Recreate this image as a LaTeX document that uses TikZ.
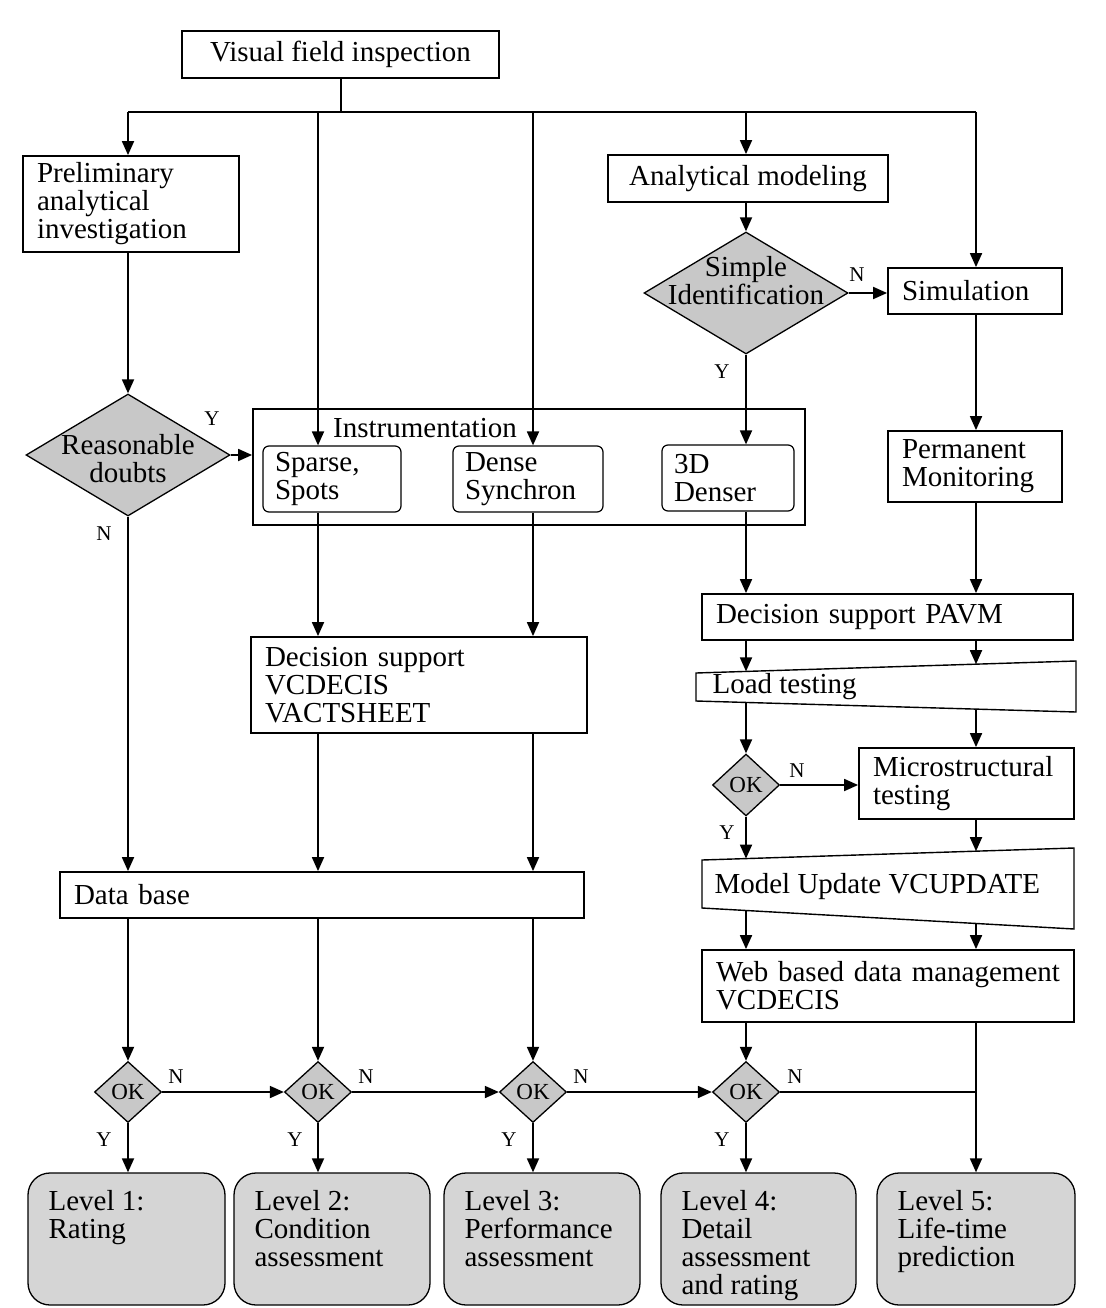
\documentclass[tikz,border=0pt]{standalone}
\usepackage{fontspec}
\setmainfont{Liberation Serif}
\usetikzlibrary{arrows.meta,positioning,shapes.geometric}
\definecolor{okGray}{RGB}{200,200,200}
\definecolor{levelGray}{RGB}{213,213,213}
\newcommand{\boxfont}{\fontsize{29}{28}\selectfont}
\newcommand{\tagfont}{\fontsize{21}{21}\selectfont}
\newcommand{\okfont}{\fontsize{23}{23}\selectfont}

\begin{document}
\begin{tikzpicture}[x=1pt, y=-1pt,
  box/.style={draw, line width=1.8pt, inner xsep=14pt, inner ysep=4pt,
              align=left, font=\boxfont},
  subbox/.style={draw, line width=1.2pt, rounded corners=6pt, inner xsep=12pt,
              inner ysep=4pt, align=left, font=\boxfont},
  decision/.style={diamond, draw, line width=1.3pt, fill=okGray, inner sep=0pt},
  level/.style={draw, line width=1.3pt, rounded corners=22pt, fill=levelGray},
  leveltext/.style={anchor=north west, inner xsep=21pt, inner ysep=18pt,
              align=left, font=\boxfont},
  tag/.style={font=\tagfont},
  arr/.style={-{Triangle[length=14pt,width=12pt]}, line width=1.8pt},
  wire/.style={line width=1.8pt}
]
  \useasboundingbox (0,0) rectangle (1105,1308);

  % columns
  \coordinate (c1) at (128,0);
  \coordinate (c2) at (318,0);
  \coordinate (c3) at (533,0);
  \coordinate (c4) at (746,0);
  \coordinate (c5) at (976,0);
  \coordinate (split) at (341,112);

  % top part
  \node[box, align=center, minimum width=317pt, minimum height=47pt] (visual) at (340.5,54.5) {Visual field inspection};
  \node[box, text width=188pt, minimum height=96pt] (prelim) at (131,204) {Preliminary\\analytical\\investigation};
  \node[box, align=center, minimum width=280pt, minimum height=47pt] (analytic) at (748,178.5) {Analytical modeling};
  \node[decision, minimum width=204pt, minimum height=122pt,
        label={[font=\boxfont, align=center, yshift=12pt]center:Simple\\Identification}] (simple) at (746,293) {};
  \node[box, text width=146pt, minimum height=46pt] (simulation) at (975,291) {Simulation};
  \node[box, text width=146pt, minimum height=71pt] (permanent) at (975,466.5) {Permanent\\Monitoring};
  \node[decision, minimum width=204pt, minimum height=122pt,
        label={[font=\boxfont, align=center, yshift=-4pt]center:Reasonable\\doubts}] (doubts) at (128,455) {};

  % instrumentation
  \node[draw, line width=1.8pt, minimum width=552pt, minimum height=116pt] (instr) at (529,467) {};
  \node[font=\boxfont] (instrtitle) at (425,428) {Instrumentation};
  \node[subbox, text width=114pt, minimum height=66pt] (sparse) at (332,479) {Sparse,\\Spots};
  \node[subbox, text width=126pt, minimum height=66pt] (dense) at (528,479) {Dense\\Synchron};
  \node[subbox, text width=108pt, minimum height=66pt] (denser) at (728,478) {3D\\Denser};

  % decision support and tests
  \node[box, text width=308pt, minimum height=96pt] (vcdecis) at (419,685) {Decision support\\VCDECIS\\VACTSHEET};
  \node[box, text width=343pt, minimum height=46pt] (pavm) at (887.5,617) {Decision support PAVM};

  \coordinate (load-nw) at (696,673);
  \coordinate (load-ne) at (1076,661);
  \coordinate (load-se) at (1076,712);
  \coordinate (load-sw) at (696,701);
  \draw[line width=1.4pt] (load-nw) -- (load-ne) -- (load-se) -- (load-sw) -- cycle;
  \node[font=\boxfont, anchor=west] (load) at (709,687) {Load testing};
  \coordinate (load-in4) at (746,671.4);
  \coordinate (load-in5) at (976,664.2);
  \coordinate (load-out4) at (746,702.4);
  \coordinate (load-out5) at (976,709.1);

  \node[decision, minimum width=67pt, minimum height=62pt, label={[font=\okfont]center:OK}] (okmid) at (746,785) {};
  \node[box, text width=187pt, minimum height=71pt] (micro) at (966.5,783.5) {Microstructural\\testing};

  \coordinate (model-nw) at (702,860);
  \coordinate (model-ne) at (1074,848);
  \coordinate (model-se) at (1074,929);
  \coordinate (model-sw) at (702,908);
  \draw[line width=1.4pt] (model-nw) -- (model-ne) -- (model-se) -- (model-sw) -- cycle;
  \node[font=\boxfont, anchor=west] (model) at (711,887) {Model Update VCUPDATE};
  \coordinate (model-in4) at (746,858.6);
  \coordinate (model-in5) at (976,851.2);
  \coordinate (model-out4) at (746,910.5);
  \coordinate (model-out5) at (976,923.5);

  \node[box, text width=344pt, minimum height=72pt] (web) at (888,986) {Web based data management\\VCDECIS};
  \node[box, text width=496pt, minimum height=46pt] (database) at (322,895) {Data base};

  % final checks and levels
  \node[decision, minimum width=67pt, minimum height=61pt, label={[font=\okfont]center:OK}] (ok1) at (128,1092) {};
  \node[decision, minimum width=67pt, minimum height=61pt, label={[font=\okfont]center:OK}] (ok2) at (318,1092) {};
  \node[decision, minimum width=67pt, minimum height=61pt, label={[font=\okfont]center:OK}] (ok3) at (533,1092) {};
  \node[decision, minimum width=67pt, minimum height=61pt, label={[font=\okfont]center:OK}] (ok4) at (746,1092) {};

  \node[level, minimum width=197pt, minimum height=132pt,
        label={[leveltext]north west:Level 1:\\Rating}] (level1) at (126.5,1239) {};
  \node[level, minimum width=196pt, minimum height=132pt,
        label={[leveltext]north west:Level 2:\\Condition\\assessment}] (level2) at (332,1239) {};
  \node[level, minimum width=196pt, minimum height=132pt,
        label={[leveltext]north west:Level 3:\\Performance\\assessment}] (level3) at (542,1239) {};
  \node[level, minimum width=195pt, minimum height=132pt,
        label={[leveltext]north west:Level 4:\\Detail\\assessment\\and rating}] (level4) at (758.5,1239) {};
  \node[level, minimum width=198pt, minimum height=132pt,
        label={[leveltext]north west:Level 5:\\Life-time\\prediction}] (level5) at (976,1239) {};

  % connectors
  \draw[wire] (visual.south -| split) -- (split);
  \draw[wire] (split -| c1) -- (split -| c5);
  \draw[arr] (split -| c1) -- (prelim.north -| c1);
  \draw[arr] (split -| c2) -- (sparse.north -| c2);
  \draw[arr] (split -| c3) -- (dense.north -| c3);
  \draw[arr] (split -| c4) -- (analytic.north -| c4);
  \draw[arr] (split -| c5) -- (simulation.north -| c5);

  \draw[arr] (prelim.south -| c1) -- (doubts.north);
  \draw[arr] (doubts.east) -- (doubts.east -| instr.west);
  \draw[arr] (doubts.south) -- (database.north -| c1);
  \draw[arr] (analytic.south -| c4) -- (simple.north);
  \draw[arr] (simple.east) -- (simple.east -| simulation.west);
  \draw[arr] (simple.south) -- (denser.north -| c4);
  \draw[arr] (simulation.south -| c5) -- (permanent.north -| c5);
  \draw[arr] (permanent.south -| c5) -- (pavm.north -| c5);

  \draw[arr] (sparse.south -| c2) -- (vcdecis.north -| c2);
  \draw[arr] (dense.south -| c3) -- (vcdecis.north -| c3);
  \draw[arr] (denser.south -| c4) -- (pavm.north -| c4);
  \draw[arr] (pavm.south -| c4) -- (load-in4);
  \draw[arr] (pavm.south -| c5) -- (load-in5);
  \draw[arr] (load-out4) -- (okmid.north);
  \draw[arr] (load-out5) -- (micro.north -| c5);
  \draw[arr] (okmid.east) -- (okmid.east -| micro.west);
  \draw[arr] (okmid.south) -- (model-in4);
  \draw[arr] (micro.south -| c5) -- (model-in5);
  \draw[arr] (model-out4) -- (web.north -| c4);
  \draw[arr] (model-out5) -- (web.north -| c5);

  \draw[arr] (vcdecis.south -| c2) -- (database.north -| c2);
  \draw[arr] (vcdecis.south -| c3) -- (database.north -| c3);
  \draw[arr] (database.south -| c1) -- (ok1.north);
  \draw[arr] (database.south -| c2) -- (ok2.north);
  \draw[arr] (database.south -| c3) -- (ok3.north);
  \draw[arr] (web.south -| c4) -- (ok4.north);
  \draw[arr] (web.south -| c5) -- (level5.north -| c5);

  \draw[arr] (ok1.east) -- (ok2.west);
  \draw[arr] (ok2.east) -- (ok3.west);
  \draw[arr] (ok3.east) -- (ok4.west);
  \draw[wire] (ok4.east) -- (ok4.east -| c5);
  \draw[arr] (ok1.south) -- (level1.north -| c1);
  \draw[arr] (ok2.south) -- (level2.north -| c2);
  \draw[arr] (ok3.south) -- (level3.north -| c3);
  \draw[arr] (ok4.south) -- (level4.north -| c4);

  % Y / N tags
  \node[tag] (ydoubts) at (212,419) {Y};
  \node[tag] (ndoubts) at (104,534) {N};
  \node[tag] (nsimple) at (857,275) {N};
  \node[tag] (ysimple) at (722,372) {Y};
  \node[tag] (nokmid) at (797,771) {N};
  \node[tag] (yokmid) at (727,833) {Y};
  \node[tag] (nok1) at (176,1077) {N};
  \node[tag] (nok2) at (366,1077) {N};
  \node[tag] (nok3) at (581,1077) {N};
  \node[tag] (nok4) at (795,1077) {N};
  \node[tag] (yok1) at (104,1140) {Y};
  \node[tag] (yok2) at (295,1140) {Y};
  \node[tag] (yok3) at (509,1140) {Y};
  \node[tag] (yok4) at (722,1140) {Y};
\end{tikzpicture}
\end{document}
